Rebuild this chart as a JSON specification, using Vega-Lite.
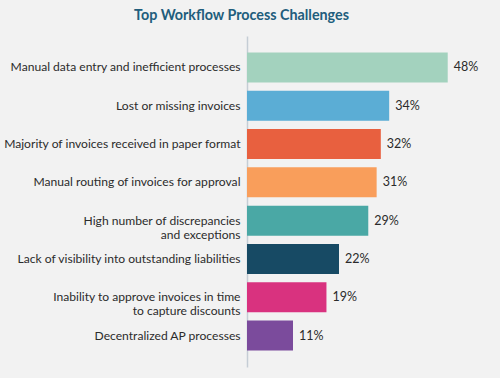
{
  "$schema": "https://vega.github.io/schema/vega-lite/v6.json",
  "autosize": "none",
  "width": 253,
  "height": 331,
  "padding": {"left": 247, "top": 36, "right": 0, "bottom": 11},
  "background": "#f2f2f2",
  "title": {
    "text": "Top Workflow Process Challenges",
    "anchor": "middle",
    "frame": "group",
    "dx": -132,
    "offset": 13,
    "font": "Lato",
    "fontSize": 14.3,
    "fontWeight": "bold",
    "color": "#215d7c"
  },
  "data": {
    "values": [
      {"challenge": "Manual data entry and inefficient processes", "pct": 0.48, "color": "#a3d2be"},
      {"challenge": "Lost or missing invoices", "pct": 0.34, "color": "#5badd5"},
      {"challenge": "Majority of invoices received in paper format", "pct": 0.32, "color": "#e8603f"},
      {"challenge": "Manual routing of invoices for approval", "pct": 0.31, "color": "#f99e5b"},
      {"challenge": "High number of discrepancies|and exceptions", "pct": 0.29, "color": "#4aa8a5"},
      {"challenge": "Lack of visibility into outstanding liabilities", "pct": 0.22, "color": "#174a64"},
      {"challenge": "Inability to approve invoices in time|to capture discounts", "pct": 0.19, "color": "#d9327f"},
      {"challenge": "Decentralized AP processes", "pct": 0.11, "color": "#7b4b9c"}
    ]
  },
  "encoding": {
    "y": {
      "field": "challenge",
      "type": "nominal",
      "sort": null,
      "scale": {"paddingInner": 0.217, "paddingOuter": 0.43},
      "axis": {
        "title": null,
        "ticks": false,
        "domainColor": "#c5cdd5",
        "domainWidth": 1.5,
        "labelPadding": 7,
        "labelFont": "Lato",
        "labelFontSize": 12.1,
        "labelColor": "#2b2b2b",
        "labelLimit": 260,
        "labelLineHeight": 14,
        "labelExpr": "split(datum.value, '|')"
      }
    },
    "x": {
      "field": "pct",
      "type": "quantitative",
      "scale": {"domain": [0, 0.605]},
      "axis": null
    }
  },
  "layer": [
    {
      "mark": {"type": "bar"},
      "encoding": {
        "color": {"field": "color", "type": "nominal", "scale": null}
      }
    },
    {
      "mark": {"type": "text", "align": "left", "dx": 6, "font": "Lato", "fontSize": 12.5, "color": "#2b2b2b"},
      "encoding": {
        "text": {"field": "pct", "type": "quantitative", "format": ".0%"}
      }
    }
  ],
  "config": {"view": {"stroke": null}}
}
